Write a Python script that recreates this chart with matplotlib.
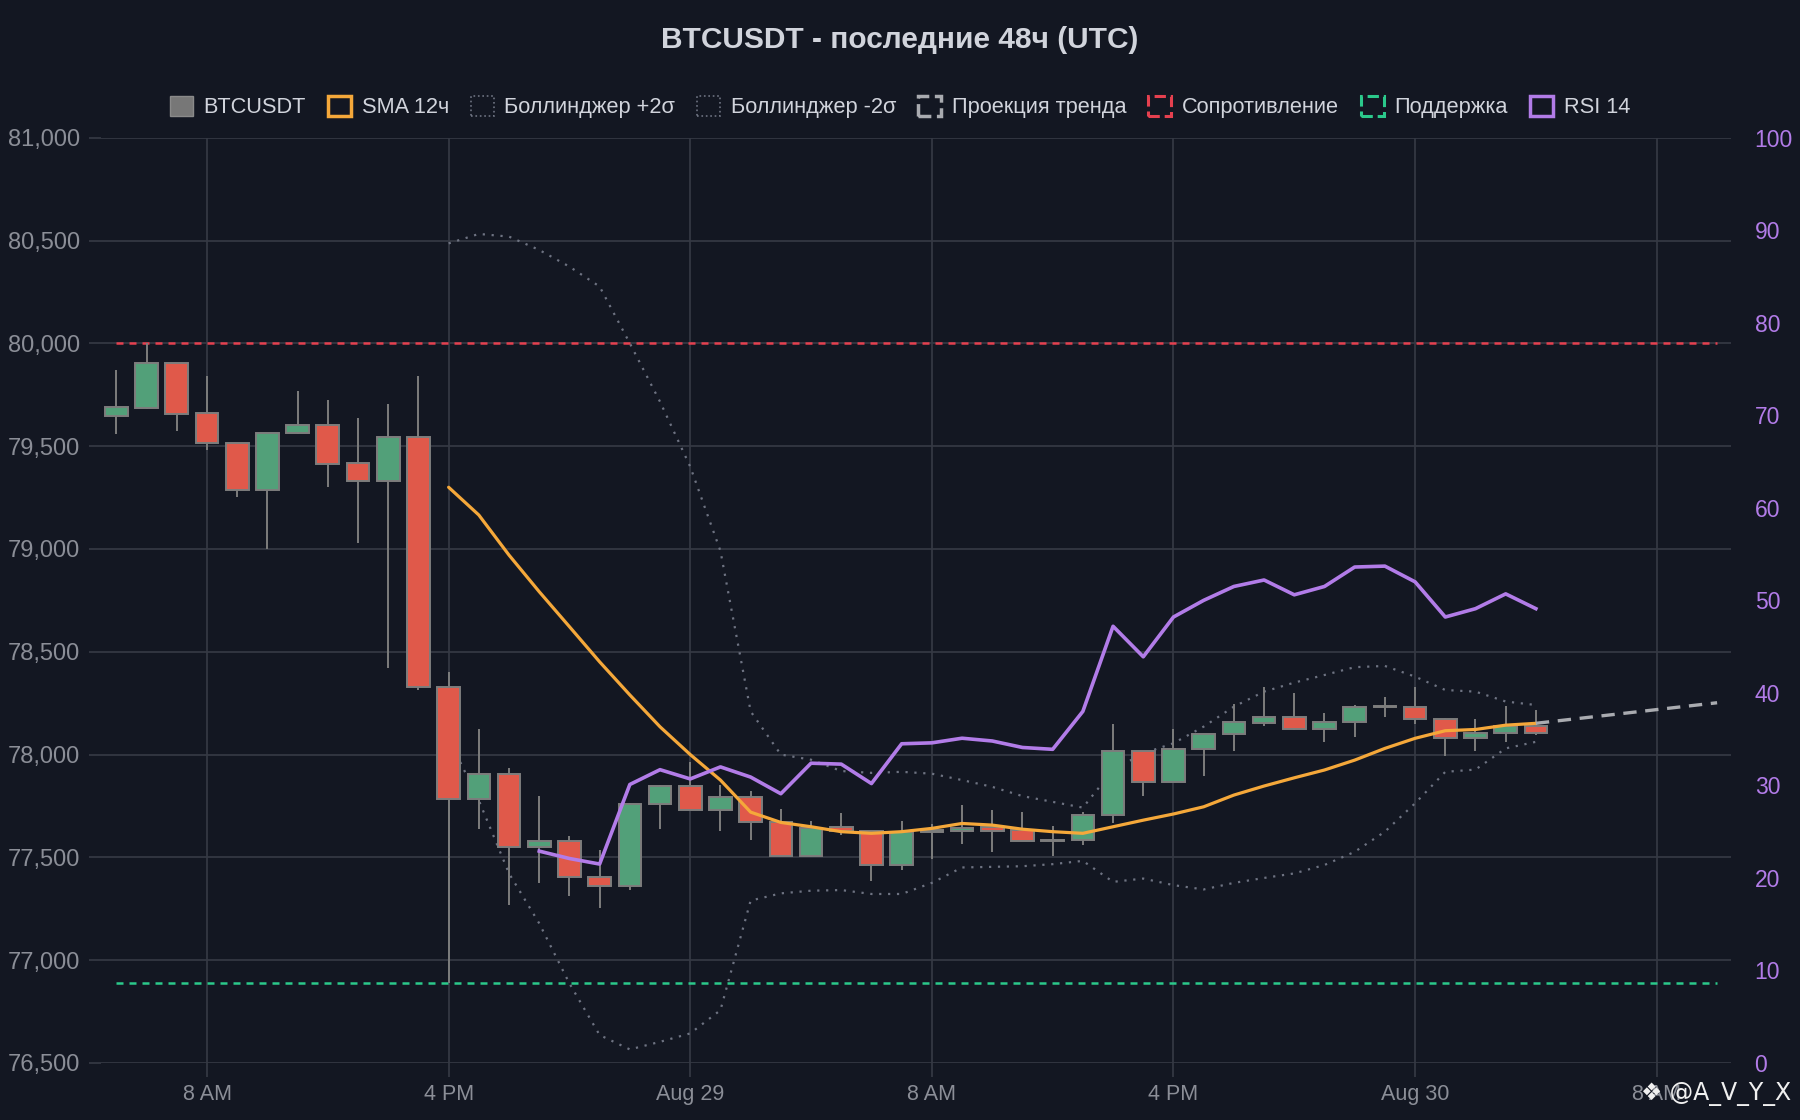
import matplotlib
matplotlib.use("Agg")
import matplotlib.pyplot as plt
import matplotlib.dates as mdates
from matplotlib.patches import Patch
from matplotlib.ticker import FuncFormatter
import pandas as pd

# hourly candles, Aug 28 05:00 .. Aug 30 04:00 (UTC)
times = pd.date_range("2025-08-28 05:00", periods=48, freq="h")
opens = [79645, 79685, 79905, 79660, 79515, 79285, 79565, 79605, 79420, 79330,
         79545, 78330, 77785, 77905, 77550, 77580, 77405, 77360, 77760, 77845,
         77730, 77795, 77670, 77505, 77650, 77630, 77465, 77625, 77630, 77650,
         77635, 77580, 77585, 77705, 78015, 77865, 78025, 78100, 78155, 78185,
         78125, 78160, 78230, 78230, 78175, 78080, 78105, 78140]
closes = [79690, 79905, 79655, 79515, 79285, 79565, 79605, 79415, 79330, 79545,
          78330, 77785, 77905, 77550, 77580, 77405, 77360, 77760, 77845, 77730,
          77795, 77670, 77505, 77645, 77630, 77465, 77625, 77635, 77645, 77630,
          77580, 77585, 77705, 78015, 77865, 78025, 78100, 78160, 78185, 78125,
          78160, 78230, 78232, 78175, 78080, 78105, 78140, 78105]
highs = [79870, 80000, 79905, 79840, 79515, 79565, 79770, 79725, 79635, 79705,
         79840, 78400, 78125, 77935, 77800, 77605, 77535, 77765, 77850, 77965,
         77850, 77825, 77735, 77675, 77715, 77630, 77675, 77660, 77755, 77730,
         77720, 77655, 77720, 78150, 78015, 78125, 78100, 78245, 78330, 78300,
         78200, 78240, 78280, 78330, 78180, 78175, 78235, 78215]
lows = [79557, 79680, 79575, 79480, 79255, 79000, 79560, 79300, 79030, 78420,
        78315, 76887, 77640, 77270, 77375, 77310, 77255, 77340, 77640, 77730,
        77630, 77585, 77505, 77500, 77610, 77385, 77440, 77490, 77565, 77525,
        77580, 77505, 77560, 77665, 77800, 77865, 77895, 78015, 78140, 78120,
        78060, 78085, 78185, 78150, 77995, 78015, 78060, 78095]

# indicators, from Aug 28 16:00
sma_12 = [79300, 79165, 78970, 78792, 78622, 78451, 78290, 78135, 78000, 77876,
          77720, 77670, 77649, 77625, 77617, 77625, 77641, 77665, 77657, 77637,
          77625, 77617, 77649, 77681, 77711, 77746, 77803, 77847, 77887, 77925,
          77973, 78030, 78079, 78116, 78122, 78143, 78152]
bb_upper = [80486, 80532, 80519, 80454, 80373, 80276, 80000, 79716, 79400, 78990,
            78210, 78000, 77975, 77920, 77911, 77916, 77907, 77876, 77843, 77798,
            77770, 77742, 77925, 78006, 78055, 78136, 78233, 78306, 78350, 78387,
            78425, 78431, 78379, 78314, 78306, 78258, 78241]
bb_lower = [78080, 77777, 77422, 77179, 76887, 76636, 76566, 76603, 76644, 76757,
            77290, 77325, 77338, 77341, 77322, 77322, 77376, 77451, 77454, 77457,
            77467, 77483, 77381, 77397, 77365, 77344, 77376, 77400, 77422, 77463,
            77527, 77625, 77763, 77916, 77927, 78030, 78062]
# RSI 14, from Aug 28 19:00
rsi_14 = [22.9, 22.1, 21.5, 30.1, 31.7, 30.7, 32.0, 30.9, 29.1, 32.4,
          32.3, 30.2, 34.5, 34.6, 35.1, 34.8, 34.1, 33.9, 38.0, 47.2,
          43.9, 48.2, 50.0, 51.5, 52.2, 50.6, 51.5, 53.6, 53.7, 52.0,
          48.2, 49.1, 50.7, 49.1]

trend_times = pd.to_datetime(["2025-08-30 04:00", "2025-08-30 10:00"])
trend_vals = [78152, 78252]
level_times = pd.to_datetime(["2025-08-28 05:00", "2025-08-30 10:00"])
resistance = 80000
support = 76887

BG = "#131722"
GRID = "#363a45"
TXT = "#8b8e97"
GREEN = "#52a079"
RED = "#e0594a"
ORANGE = "#f5a83a"
PURPLE = "#b27ce8"
BB_COL = "#6e7382"

plt.rcParams["font.family"] = ["Liberation Sans", "DejaVu Sans"]

fig = plt.figure(figsize=(18, 11.2), dpi=100, facecolor=BG)
ax = fig.add_axes([101 / 1800, 57 / 1120, 1630 / 1800, 925.3 / 1120])
ax.set_facecolor(BG)

x = mdates.date2num(times)
ind_x = x[11:]
rsi_x = x[14:]

# bollinger bands
ax.plot(ind_x, bb_upper, color=BB_COL, lw=1.6, ls=(0, (1, 3)), zorder=2)
ax.plot(ind_x, bb_lower, color=BB_COL, lw=1.6, ls=(0, (1, 3)), zorder=2)

# levels
ax.plot(level_times, [resistance] * 2, color="#e5404f", lw=1.8, ls=(0, (2.8, 2.4)), zorder=2)
ax.plot(level_times, [support] * 2, color="#2bc98b", lw=1.8, ls=(0, (2.8, 2.4)), zorder=2)

# candles
w = 0.75 / 24
cols = [GREEN if c >= o else RED for o, c in zip(opens, closes)]
ax.vlines(x, lows, highs, color="#7d7d7d", lw=1.4, zorder=3)
body = [max(abs(c - o), 4) for o, c in zip(opens, closes)]
bottoms = [min(o, c) for o, c in zip(opens, closes)]
ax.bar(x, body, bottom=bottoms, width=w, color=cols, edgecolor="#7d7d7d",
       linewidth=1.4, zorder=4)

# SMA + trend projection
ax.plot(ind_x, sma_12, color=ORANGE, lw=2.3, zorder=5, solid_capstyle="round")
ax.plot(trend_times, trend_vals, color="#a9abb0", lw=2.4, ls=(0, (4, 2.6)), zorder=5)

ax.set_ylim(76500, 81000)
ax.set_yticks(range(76500, 81001, 500))
ax.yaxis.set_major_formatter(FuncFormatter(lambda v, p: f"{int(v):,}"))
x0 = mdates.date2num(pd.Timestamp("2025-08-28 08:00"))
ax.set_xlim(x0 - 3.51 / 24, x0 + 50.46 / 24)
ax.set_xticks(pd.date_range("2025-08-28 08:00", periods=7, freq="8h"))


def xfmt(v, pos):
    d = mdates.num2date(v)
    if d.hour == 0:
        return f"{d:%b} {d.day}"
    return f"{d.hour % 12 or 12} {'AM' if d.hour < 12 else 'PM'}"


ax.xaxis.set_major_formatter(FuncFormatter(xfmt))
ax.grid(True, color=GRID, lw=1.2, zorder=0)
ax.set_axisbelow(True)
ax.tick_params(axis="y", colors=GRID, labelcolor=TXT, labelsize=17, length=9, width=1.2, pad=6)
ax.tick_params(axis="x", colors=GRID, labelcolor=TXT, labelsize=15.5, length=10, width=1.2, pad=5)
for s in ax.spines.values():
    s.set_visible(False)

# RSI on right axis
ax2 = ax.twinx()
ax2.plot(rsi_x, rsi_14, color=PURPLE, lw=2.6, zorder=6)
ax2.set_ylim(0, 100)
ax2.set_yticks(range(0, 101, 10))
ax2.tick_params(axis="y", colors=PURPLE, labelsize=16.5, length=0, pad=17)
for s in ax2.spines.values():
    s.set_visible(False)

fig.text(0.5, 1 - 40 / 1120, "BTCUSDT - последние 48ч (UTC)", ha="center", va="center",
         fontsize=21.5, fontweight="bold", color="#d1d4dc")

handles = [
    Patch(facecolor="#777777", edgecolor="#8a8a8a", lw=1),
    Patch(facecolor="none", edgecolor=ORANGE, lw=2.5),
    Patch(facecolor="none", edgecolor=BB_COL, lw=1.2, ls=":"),
    Patch(facecolor="none", edgecolor=BB_COL, lw=1.2, ls=":"),
    Patch(facecolor="none", edgecolor="#a9abb0", lw=2.5, ls="--"),
    Patch(facecolor="none", edgecolor="#e5404f", lw=2.2, ls="--"),
    Patch(facecolor="none", edgecolor="#2bc98b", lw=2.2, ls="--"),
    Patch(facecolor="none", edgecolor=PURPLE, lw=2.5),
]
labels = ["BTCUSDT", "SMA 12ч", "Боллинджер +2σ", "Боллинджер -2σ",
          "Проекция тренда", "Сопротивление", "Поддержка", "RSI 14"]
fig.legend(handles, labels, loc="center", bbox_to_anchor=(0.5, 1 - 107 / 1120), ncol=8,
           frameon=False, fontsize=15.7, handlelength=1.05, handleheight=1.05,
           handletextpad=0.5, columnspacing=1.0, labelcolor="#d1d4dc")

fig.text(0.995, 1 - 1094 / 1120, "❖ @A_V_Y_X", ha="right", va="center", fontsize=17,
         color="#f0f0f0", family=["DejaVu Sans"])

fig.savefig("out.png", dpi=100, facecolor=BG)
